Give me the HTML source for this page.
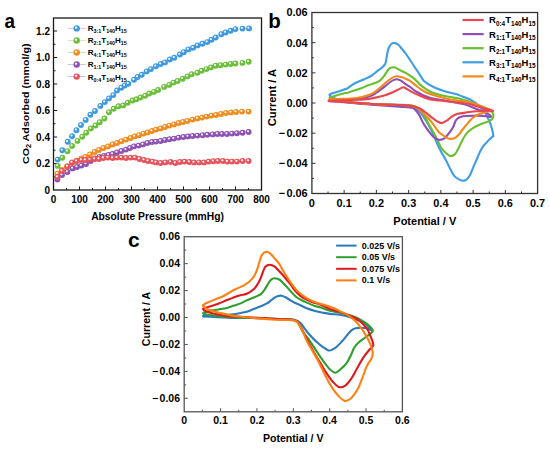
<!DOCTYPE html>
<html><head><meta charset="utf-8"><style>
html,body{margin:0;padding:0;background:#fff;}
svg{display:block;}
text{font-family:"Liberation Sans",sans-serif;font-weight:bold;}
</style></head><body>
<svg width="550" height="450" viewBox="0 0 550 450">
<rect width="550" height="450" fill="#fff"/>
<rect x="53.5" y="18.0" width="208.0" height="172.0" fill="none" stroke="#1a1a1a" stroke-width="1.3"/>
<text x="53.5" y="202.6" font-size="10" text-anchor="middle"  fill="#000">0</text>
<line x1="66.5" y1="190.0" x2="66.5" y2="188" stroke="#1a1a1a" stroke-width="1"/>
<line x1="79.5" y1="190.0" x2="79.5" y2="186.4" stroke="#1a1a1a" stroke-width="1"/>
<text x="79.5" y="202.6" font-size="10" text-anchor="middle"  fill="#000">100</text>
<line x1="92.5" y1="190.0" x2="92.5" y2="188" stroke="#1a1a1a" stroke-width="1"/>
<line x1="105.5" y1="190.0" x2="105.5" y2="186.4" stroke="#1a1a1a" stroke-width="1"/>
<text x="105.5" y="202.6" font-size="10" text-anchor="middle"  fill="#000">200</text>
<line x1="118.5" y1="190.0" x2="118.5" y2="188" stroke="#1a1a1a" stroke-width="1"/>
<line x1="131.5" y1="190.0" x2="131.5" y2="186.4" stroke="#1a1a1a" stroke-width="1"/>
<text x="131.5" y="202.6" font-size="10" text-anchor="middle"  fill="#000">300</text>
<line x1="144.5" y1="190.0" x2="144.5" y2="188" stroke="#1a1a1a" stroke-width="1"/>
<line x1="157.5" y1="190.0" x2="157.5" y2="186.4" stroke="#1a1a1a" stroke-width="1"/>
<text x="157.5" y="202.6" font-size="10" text-anchor="middle"  fill="#000">400</text>
<line x1="170.5" y1="190.0" x2="170.5" y2="188" stroke="#1a1a1a" stroke-width="1"/>
<line x1="183.5" y1="190.0" x2="183.5" y2="186.4" stroke="#1a1a1a" stroke-width="1"/>
<text x="183.5" y="202.6" font-size="10" text-anchor="middle"  fill="#000">500</text>
<line x1="196.5" y1="190.0" x2="196.5" y2="188" stroke="#1a1a1a" stroke-width="1"/>
<line x1="209.5" y1="190.0" x2="209.5" y2="186.4" stroke="#1a1a1a" stroke-width="1"/>
<text x="209.5" y="202.6" font-size="10" text-anchor="middle"  fill="#000">600</text>
<line x1="222.5" y1="190.0" x2="222.5" y2="188" stroke="#1a1a1a" stroke-width="1"/>
<line x1="235.5" y1="190.0" x2="235.5" y2="186.4" stroke="#1a1a1a" stroke-width="1"/>
<text x="235.5" y="202.6" font-size="10" text-anchor="middle"  fill="#000">700</text>
<line x1="248.5" y1="190.0" x2="248.5" y2="188" stroke="#1a1a1a" stroke-width="1"/>
<text x="261.5" y="202.6" font-size="10" text-anchor="middle"  fill="#000">800</text>
<text x="50" y="193.6" font-size="10" text-anchor="end"  fill="#000">0</text>
<line x1="53.5" y1="176.75" x2="55.5" y2="176.75" stroke="#1a1a1a" stroke-width="1"/>
<line x1="53.5" y1="163.5" x2="57.1" y2="163.5" stroke="#1a1a1a" stroke-width="1"/>
<text x="50" y="167.1" font-size="10" text-anchor="end"  fill="#000">0.2</text>
<line x1="53.5" y1="150.25" x2="55.5" y2="150.25" stroke="#1a1a1a" stroke-width="1"/>
<line x1="53.5" y1="137" x2="57.1" y2="137" stroke="#1a1a1a" stroke-width="1"/>
<text x="50" y="140.6" font-size="10" text-anchor="end"  fill="#000">0.4</text>
<line x1="53.5" y1="123.75" x2="55.5" y2="123.75" stroke="#1a1a1a" stroke-width="1"/>
<line x1="53.5" y1="110.5" x2="57.1" y2="110.5" stroke="#1a1a1a" stroke-width="1"/>
<text x="50" y="114.1" font-size="10" text-anchor="end"  fill="#000">0.6</text>
<line x1="53.5" y1="97.25" x2="55.5" y2="97.25" stroke="#1a1a1a" stroke-width="1"/>
<line x1="53.5" y1="84" x2="57.1" y2="84" stroke="#1a1a1a" stroke-width="1"/>
<text x="50" y="87.6" font-size="10" text-anchor="end"  fill="#000">0.8</text>
<line x1="53.5" y1="70.75" x2="55.5" y2="70.75" stroke="#1a1a1a" stroke-width="1"/>
<line x1="53.5" y1="57.5" x2="57.1" y2="57.5" stroke="#1a1a1a" stroke-width="1"/>
<text x="50" y="61.1" font-size="10" text-anchor="end"  fill="#000">1.0</text>
<line x1="53.5" y1="44.25" x2="55.5" y2="44.25" stroke="#1a1a1a" stroke-width="1"/>
<line x1="53.5" y1="31" x2="57.1" y2="31" stroke="#1a1a1a" stroke-width="1"/>
<text x="50" y="34.6" font-size="10" text-anchor="end"  fill="#000">1.2</text>
<text x="157.5" y="220" font-size="10.3" text-anchor="middle"  fill="#000">Absolute Pressure (mmHg)</text>
<text transform="translate(28.6,103.7) rotate(-90) scale(1.04,0.9)" font-size="10.3" text-anchor="middle"  fill="#000">CO<tspan font-size="7" dy="2.5">2</tspan><tspan dy="-2.5"> Adsorbed (mmol/g)</tspan></text>
<text transform="translate(4.6,27.6) scale(0.9,1)" font-size="21"  fill="#000">a</text>
<defs>
<radialGradient id="gblue" cx="0.4" cy="0.38" r="0.6"><stop offset="0" stop-color="#fff"/><stop offset="0.14" stop-color="#fff"/><stop offset="0.42" stop-color="#3d9ae0"/><stop offset="1" stop-color="#3d9ae0"/></radialGradient>
<radialGradient id="ggreen" cx="0.4" cy="0.38" r="0.6"><stop offset="0" stop-color="#fff"/><stop offset="0.14" stop-color="#fff"/><stop offset="0.42" stop-color="#6bbf3b"/><stop offset="1" stop-color="#6bbf3b"/></radialGradient>
<radialGradient id="gorange" cx="0.4" cy="0.38" r="0.6"><stop offset="0" stop-color="#fff"/><stop offset="0.14" stop-color="#fff"/><stop offset="0.42" stop-color="#f28b1d"/><stop offset="1" stop-color="#f28b1d"/></radialGradient>
<radialGradient id="gpurple" cx="0.4" cy="0.38" r="0.6"><stop offset="0" stop-color="#fff"/><stop offset="0.14" stop-color="#fff"/><stop offset="0.42" stop-color="#8d52b4"/><stop offset="1" stop-color="#8d52b4"/></radialGradient>
<radialGradient id="gred" cx="0.4" cy="0.38" r="0.6"><stop offset="0" stop-color="#fff"/><stop offset="0.14" stop-color="#fff"/><stop offset="0.42" stop-color="#e8525b"/><stop offset="1" stop-color="#e8525b"/></radialGradient>
</defs>
<circle cx="57.7" cy="159.6" r="2.95" fill="url(#gblue)"/><circle cx="62.3" cy="150.3" r="2.95" fill="url(#gblue)"/><circle cx="67.7" cy="141.8" r="2.95" fill="url(#gblue)"/><circle cx="72.1" cy="136.2" r="2.95" fill="url(#gblue)"/><circle cx="76.4" cy="130.2" r="2.95" fill="url(#gblue)"/><circle cx="81" cy="125" r="2.95" fill="url(#gblue)"/><circle cx="85.7" cy="119.9" r="2.95" fill="url(#gblue)"/><circle cx="90.4" cy="114.8" r="2.95" fill="url(#gblue)"/><circle cx="95" cy="111" r="2.95" fill="url(#gblue)"/><circle cx="100.4" cy="105.9" r="2.95" fill="url(#gblue)"/><circle cx="104.8" cy="102.1" r="2.95" fill="url(#gblue)"/><circle cx="109" cy="98.4" r="2.95" fill="url(#gblue)"/><circle cx="113.3" cy="95.1" r="2.95" fill="url(#gblue)"/><circle cx="117" cy="90.5" r="2.95" fill="url(#gblue)"/><circle cx="121.3" cy="87.7" r="2.95" fill="url(#gblue)"/><circle cx="124.7" cy="85.5" r="2.95" fill="url(#gblue)"/><circle cx="128.3" cy="83.8" r="2.95" fill="url(#gblue)"/><circle cx="134" cy="79.8" r="2.95" fill="url(#gblue)"/><circle cx="137.6" cy="77" r="2.95" fill="url(#gblue)"/><circle cx="141.8" cy="74.8" r="2.95" fill="url(#gblue)"/><circle cx="146.6" cy="71.4" r="2.95" fill="url(#gblue)"/><circle cx="150.9" cy="69.1" r="2.95" fill="url(#gblue)"/><circle cx="155.9" cy="66.3" r="2.95" fill="url(#gblue)"/><circle cx="160.7" cy="64" r="2.95" fill="url(#gblue)"/><circle cx="165" cy="62.4" r="2.95" fill="url(#gblue)"/><circle cx="169.8" cy="59.5" r="2.95" fill="url(#gblue)"/><circle cx="174.3" cy="57.8" r="2.95" fill="url(#gblue)"/><circle cx="179.9" cy="54.5" r="2.95" fill="url(#gblue)"/><circle cx="183.8" cy="52.2" r="2.95" fill="url(#gblue)"/><circle cx="188.4" cy="49.4" r="2.95" fill="url(#gblue)"/><circle cx="193.1" cy="47.7" r="2.95" fill="url(#gblue)"/><circle cx="197.4" cy="45.4" r="2.95" fill="url(#gblue)"/><circle cx="202.4" cy="43.7" r="2.95" fill="url(#gblue)"/><circle cx="207.2" cy="42.1" r="2.95" fill="url(#gblue)"/><circle cx="211.5" cy="39.8" r="2.95" fill="url(#gblue)"/><circle cx="215.7" cy="37.5" r="2.95" fill="url(#gblue)"/><circle cx="221.3" cy="34.2" r="2.95" fill="url(#gblue)"/><circle cx="225.6" cy="32.5" r="2.95" fill="url(#gblue)"/><circle cx="230.6" cy="30.8" r="2.95" fill="url(#gblue)"/><circle cx="235.4" cy="29.1" r="2.95" fill="url(#gblue)"/><circle cx="242.5" cy="28.6" r="2.95" fill="url(#gblue)"/><circle cx="249" cy="28.4" r="2.95" fill="url(#gblue)"/>
<circle cx="57.7" cy="165.9" r="2.95" fill="url(#ggreen)"/><circle cx="62.3" cy="157.7" r="2.95" fill="url(#ggreen)"/><circle cx="67.5" cy="151.2" r="2.95" fill="url(#ggreen)"/><circle cx="72.1" cy="146" r="2.95" fill="url(#ggreen)"/><circle cx="77.5" cy="140.9" r="2.95" fill="url(#ggreen)"/><circle cx="82.2" cy="136.7" r="2.95" fill="url(#ggreen)"/><circle cx="86.2" cy="132.7" r="2.95" fill="url(#ggreen)"/><circle cx="90.8" cy="128.5" r="2.95" fill="url(#ggreen)"/><circle cx="95.5" cy="125.5" r="2.95" fill="url(#ggreen)"/><circle cx="99.7" cy="122.2" r="2.95" fill="url(#ggreen)"/><circle cx="104.4" cy="118.5" r="2.95" fill="url(#ggreen)"/><circle cx="109" cy="112.2" r="2.95" fill="url(#ggreen)"/><circle cx="113.7" cy="108.7" r="2.95" fill="url(#ggreen)"/><circle cx="118.4" cy="106.3" r="2.95" fill="url(#ggreen)"/><circle cx="123.1" cy="105.4" r="2.95" fill="url(#ggreen)"/><circle cx="127.7" cy="102.8" r="2.95" fill="url(#ggreen)"/><circle cx="132.4" cy="100.5" r="2.95" fill="url(#ggreen)"/><circle cx="136.4" cy="99.3" r="2.95" fill="url(#ggreen)"/><circle cx="140.6" cy="97.5" r="2.95" fill="url(#ggreen)"/><circle cx="145.2" cy="95.8" r="2.95" fill="url(#ggreen)"/><circle cx="149.2" cy="93.5" r="2.95" fill="url(#ggreen)"/><circle cx="153.9" cy="91.9" r="2.95" fill="url(#ggreen)"/><circle cx="158.1" cy="90" r="2.95" fill="url(#ggreen)"/><circle cx="164.1" cy="86.9" r="2.95" fill="url(#ggreen)"/><circle cx="169.2" cy="84.9" r="2.95" fill="url(#ggreen)"/><circle cx="173.4" cy="82.6" r="2.95" fill="url(#ggreen)"/><circle cx="177.6" cy="81" r="2.95" fill="url(#ggreen)"/><circle cx="182.7" cy="78.7" r="2.95" fill="url(#ggreen)"/><circle cx="187.5" cy="76.4" r="2.95" fill="url(#ggreen)"/><circle cx="191.7" cy="74.2" r="2.95" fill="url(#ggreen)"/><circle cx="197.4" cy="72.8" r="2.95" fill="url(#ggreen)"/><circle cx="201.6" cy="70.8" r="2.95" fill="url(#ggreen)"/><circle cx="206.4" cy="69.1" r="2.95" fill="url(#ggreen)"/><circle cx="210.9" cy="67.4" r="2.95" fill="url(#ggreen)"/><circle cx="215.7" cy="65.7" r="2.95" fill="url(#ggreen)"/><circle cx="220.5" cy="65.2" r="2.95" fill="url(#ggreen)"/><circle cx="225.6" cy="64.6" r="2.95" fill="url(#ggreen)"/><circle cx="230.6" cy="64" r="2.95" fill="url(#ggreen)"/><circle cx="235.4" cy="63.5" r="2.95" fill="url(#ggreen)"/><circle cx="242.5" cy="62.9" r="2.95" fill="url(#ggreen)"/><circle cx="248.7" cy="61.8" r="2.95" fill="url(#ggreen)"/>
<circle cx="57.4" cy="173.6" r="2.95" fill="url(#gorange)"/><circle cx="62" cy="170" r="2.95" fill="url(#gorange)"/><circle cx="67" cy="166.4" r="2.95" fill="url(#gorange)"/><circle cx="72" cy="163" r="2.95" fill="url(#gorange)"/><circle cx="76.6" cy="160.8" r="2.95" fill="url(#gorange)"/><circle cx="81.4" cy="158.4" r="2.95" fill="url(#gorange)"/><circle cx="85.4" cy="157" r="2.95" fill="url(#gorange)"/><circle cx="90" cy="154.4" r="2.95" fill="url(#gorange)"/><circle cx="94.6" cy="152" r="2.95" fill="url(#gorange)"/><circle cx="99" cy="150" r="2.95" fill="url(#gorange)"/><circle cx="103.4" cy="148" r="2.95" fill="url(#gorange)"/><circle cx="108" cy="146.4" r="2.95" fill="url(#gorange)"/><circle cx="112.6" cy="144.4" r="2.95" fill="url(#gorange)"/><circle cx="117" cy="143" r="2.95" fill="url(#gorange)"/><circle cx="121.4" cy="141.2" r="2.95" fill="url(#gorange)"/><circle cx="126" cy="139.6" r="2.95" fill="url(#gorange)"/><circle cx="130.6" cy="138" r="2.95" fill="url(#gorange)"/><circle cx="134.6" cy="136.4" r="2.95" fill="url(#gorange)"/><circle cx="139" cy="135.2" r="2.95" fill="url(#gorange)"/><circle cx="143.4" cy="133.6" r="2.95" fill="url(#gorange)"/><circle cx="147.4" cy="132.4" r="2.95" fill="url(#gorange)"/><circle cx="152" cy="131" r="2.95" fill="url(#gorange)"/><circle cx="156" cy="129.6" r="2.95" fill="url(#gorange)"/><circle cx="160.6" cy="128.4" r="2.95" fill="url(#gorange)"/><circle cx="165" cy="127" r="2.95" fill="url(#gorange)"/><circle cx="169.4" cy="125.6" r="2.95" fill="url(#gorange)"/><circle cx="174" cy="124.4" r="2.95" fill="url(#gorange)"/><circle cx="178.6" cy="123" r="2.95" fill="url(#gorange)"/><circle cx="183" cy="122" r="2.95" fill="url(#gorange)"/><circle cx="187.4" cy="121" r="2.95" fill="url(#gorange)"/><circle cx="192.6" cy="119.6" r="2.95" fill="url(#gorange)"/><circle cx="197.4" cy="118.4" r="2.95" fill="url(#gorange)"/><circle cx="202" cy="117.6" r="2.95" fill="url(#gorange)"/><circle cx="206.6" cy="116.6" r="2.95" fill="url(#gorange)"/><circle cx="211.4" cy="115.6" r="2.95" fill="url(#gorange)"/><circle cx="216" cy="115" r="2.95" fill="url(#gorange)"/><circle cx="221" cy="114" r="2.95" fill="url(#gorange)"/><circle cx="226" cy="113" r="2.95" fill="url(#gorange)"/><circle cx="231" cy="112.4" r="2.95" fill="url(#gorange)"/><circle cx="236" cy="112" r="2.95" fill="url(#gorange)"/><circle cx="242" cy="111.6" r="2.95" fill="url(#gorange)"/><circle cx="248.6" cy="111.6" r="2.95" fill="url(#gorange)"/>
<circle cx="57.4" cy="179.6" r="2.95" fill="url(#gpurple)"/><circle cx="62" cy="175" r="2.95" fill="url(#gpurple)"/><circle cx="67.4" cy="172" r="2.95" fill="url(#gpurple)"/><circle cx="72.6" cy="168.4" r="2.95" fill="url(#gpurple)"/><circle cx="77" cy="167" r="2.95" fill="url(#gpurple)"/><circle cx="81.4" cy="165.6" r="2.95" fill="url(#gpurple)"/><circle cx="86" cy="164" r="2.95" fill="url(#gpurple)"/><circle cx="90.6" cy="161" r="2.95" fill="url(#gpurple)"/><circle cx="95" cy="158.4" r="2.95" fill="url(#gpurple)"/><circle cx="99.4" cy="157" r="2.95" fill="url(#gpurple)"/><circle cx="104" cy="156" r="2.95" fill="url(#gpurple)"/><circle cx="108.6" cy="155" r="2.95" fill="url(#gpurple)"/><circle cx="112.6" cy="154" r="2.95" fill="url(#gpurple)"/><circle cx="117" cy="152.4" r="2.95" fill="url(#gpurple)"/><circle cx="121.4" cy="151" r="2.95" fill="url(#gpurple)"/><circle cx="126" cy="149.6" r="2.95" fill="url(#gpurple)"/><circle cx="130" cy="148" r="2.95" fill="url(#gpurple)"/><circle cx="134" cy="146.4" r="2.95" fill="url(#gpurple)"/><circle cx="138.6" cy="145.6" r="2.95" fill="url(#gpurple)"/><circle cx="143" cy="144.4" r="2.95" fill="url(#gpurple)"/><circle cx="147.4" cy="143" r="2.95" fill="url(#gpurple)"/><circle cx="152" cy="142" r="2.95" fill="url(#gpurple)"/><circle cx="156" cy="141.6" r="2.95" fill="url(#gpurple)"/><circle cx="160.6" cy="141" r="2.95" fill="url(#gpurple)"/><circle cx="165" cy="140" r="2.95" fill="url(#gpurple)"/><circle cx="169.4" cy="139.2" r="2.95" fill="url(#gpurple)"/><circle cx="174" cy="138.6" r="2.95" fill="url(#gpurple)"/><circle cx="178.6" cy="137.6" r="2.95" fill="url(#gpurple)"/><circle cx="183.4" cy="137" r="2.95" fill="url(#gpurple)"/><circle cx="188" cy="136.4" r="2.95" fill="url(#gpurple)"/><circle cx="192.6" cy="136" r="2.95" fill="url(#gpurple)"/><circle cx="197.4" cy="135.6" r="2.95" fill="url(#gpurple)"/><circle cx="202.6" cy="135.2" r="2.95" fill="url(#gpurple)"/><circle cx="207.4" cy="134.8" r="2.95" fill="url(#gpurple)"/><circle cx="212.6" cy="134.4" r="2.95" fill="url(#gpurple)"/><circle cx="217.4" cy="134" r="2.95" fill="url(#gpurple)"/><circle cx="222" cy="134" r="2.95" fill="url(#gpurple)"/><circle cx="227" cy="134" r="2.95" fill="url(#gpurple)"/><circle cx="232" cy="133.6" r="2.95" fill="url(#gpurple)"/><circle cx="237" cy="133.2" r="2.95" fill="url(#gpurple)"/><circle cx="242.6" cy="132.8" r="2.95" fill="url(#gpurple)"/><circle cx="248.6" cy="132" r="2.95" fill="url(#gpurple)"/>
<circle cx="57.4" cy="177" r="2.95" fill="url(#gred)"/><circle cx="62" cy="171" r="2.95" fill="url(#gred)"/><circle cx="67.4" cy="166.4" r="2.95" fill="url(#gred)"/><circle cx="72" cy="162.4" r="2.95" fill="url(#gred)"/><circle cx="76.6" cy="161" r="2.95" fill="url(#gred)"/><circle cx="81.4" cy="160" r="2.95" fill="url(#gred)"/><circle cx="85.4" cy="160" r="2.95" fill="url(#gred)"/><circle cx="90" cy="159.6" r="2.95" fill="url(#gred)"/><circle cx="94.6" cy="159" r="2.95" fill="url(#gred)"/><circle cx="99" cy="159" r="2.95" fill="url(#gred)"/><circle cx="103.4" cy="158" r="2.95" fill="url(#gred)"/><circle cx="108" cy="157.6" r="2.95" fill="url(#gred)"/><circle cx="112.6" cy="158" r="2.95" fill="url(#gred)"/><circle cx="117" cy="157.6" r="2.95" fill="url(#gred)"/><circle cx="121.4" cy="157.6" r="2.95" fill="url(#gred)"/><circle cx="126" cy="158" r="2.95" fill="url(#gred)"/><circle cx="130.6" cy="157.6" r="2.95" fill="url(#gred)"/><circle cx="135" cy="157.6" r="2.95" fill="url(#gred)"/><circle cx="139.4" cy="159" r="2.95" fill="url(#gred)"/><circle cx="144" cy="160" r="2.95" fill="url(#gred)"/><circle cx="148" cy="161" r="2.95" fill="url(#gred)"/><circle cx="152.6" cy="161.6" r="2.95" fill="url(#gred)"/><circle cx="156" cy="162.4" r="2.95" fill="url(#gred)"/><circle cx="160.6" cy="163" r="2.95" fill="url(#gred)"/><circle cx="165.4" cy="162.4" r="2.95" fill="url(#gred)"/><circle cx="170.6" cy="162" r="2.95" fill="url(#gred)"/><circle cx="175.4" cy="163" r="2.95" fill="url(#gred)"/><circle cx="180" cy="162" r="2.95" fill="url(#gred)"/><circle cx="184.6" cy="161.6" r="2.95" fill="url(#gred)"/><circle cx="189.4" cy="162" r="2.95" fill="url(#gred)"/><circle cx="194" cy="162.4" r="2.95" fill="url(#gred)"/><circle cx="199" cy="162.4" r="2.95" fill="url(#gred)"/><circle cx="204" cy="162.4" r="2.95" fill="url(#gred)"/><circle cx="208.6" cy="161.6" r="2.95" fill="url(#gred)"/><circle cx="213.4" cy="161.2" r="2.95" fill="url(#gred)"/><circle cx="218" cy="161" r="2.95" fill="url(#gred)"/><circle cx="223" cy="161" r="2.95" fill="url(#gred)"/><circle cx="227.4" cy="161.6" r="2.95" fill="url(#gred)"/><circle cx="232" cy="161.6" r="2.95" fill="url(#gred)"/><circle cx="237" cy="161.6" r="2.95" fill="url(#gred)"/><circle cx="242.6" cy="161" r="2.95" fill="url(#gred)"/><circle cx="248.6" cy="161" r="2.95" fill="url(#gred)"/>
<line x1="67.5" y1="28.4" x2="85.8" y2="28.4" stroke="#f6bcc6" stroke-width="1"/>
<circle cx="76.7" cy="28.4" r="3.2" fill="url(#gblue)"/>
<text x="87.8" y="31.3" font-size="8"  fill="#000">R<tspan font-size="5.3" dy="2">3:1</tspan><tspan dy="-2">T</tspan><tspan font-size="5.3" dy="2">140</tspan><tspan dy="-2">H</tspan><tspan font-size="5.3" dy="2">15</tspan></text>
<line x1="67.5" y1="40.45" x2="85.8" y2="40.45" stroke="#dfe2bb" stroke-width="1"/>
<circle cx="76.7" cy="40.45" r="3.2" fill="url(#ggreen)"/>
<text x="87.8" y="43.35" font-size="8"  fill="#000">R<tspan font-size="5.3" dy="2">2:1</tspan><tspan dy="-2">T</tspan><tspan font-size="5.3" dy="2">140</tspan><tspan dy="-2">H</tspan><tspan font-size="5.3" dy="2">15</tspan></text>
<line x1="67.5" y1="52.5" x2="85.8" y2="52.5" stroke="#b8e2d2" stroke-width="1"/>
<circle cx="76.7" cy="52.5" r="3.2" fill="url(#gorange)"/>
<text x="87.8" y="55.4" font-size="8"  fill="#000">R<tspan font-size="5.3" dy="2">4:1</tspan><tspan dy="-2">T</tspan><tspan font-size="5.3" dy="2">140</tspan><tspan dy="-2">H</tspan><tspan font-size="5.3" dy="2">15</tspan></text>
<line x1="67.5" y1="64.55" x2="85.8" y2="64.55" stroke="#cbc3f3" stroke-width="1"/>
<circle cx="76.7" cy="64.55" r="3.2" fill="url(#gpurple)"/>
<text x="87.8" y="67.45" font-size="8"  fill="#000">R<tspan font-size="5.3" dy="2">1:1</tspan><tspan dy="-2">T</tspan><tspan font-size="5.3" dy="2">140</tspan><tspan dy="-2">H</tspan><tspan font-size="5.3" dy="2">15</tspan></text>
<line x1="67.5" y1="76.6" x2="85.8" y2="76.6" stroke="#bfbdf5" stroke-width="1"/>
<circle cx="76.7" cy="76.6" r="3.2" fill="url(#gred)"/>
<text x="87.8" y="79.5" font-size="8"  fill="#000">R<tspan font-size="5.3" dy="2">0:4</tspan><tspan dy="-2">T</tspan><tspan font-size="5.3" dy="2">140</tspan><tspan dy="-2">H</tspan><tspan font-size="5.3" dy="2">15</tspan></text>
<rect x="311.9" y="12.5" width="225.7" height="181.0" fill="none" stroke="#333" stroke-width="1.3"/>
<text x="311.9" y="206.6" font-size="10.9" text-anchor="middle"  fill="#000">0</text>
<line x1="328.02" y1="193.5" x2="328.02" y2="191.5" stroke="#333" stroke-width="1"/>
<line x1="344.14" y1="193.5" x2="344.14" y2="189.9" stroke="#333" stroke-width="1"/>
<text x="344.14" y="206.6" font-size="10.9" text-anchor="middle"  fill="#000">0.1</text>
<line x1="360.26" y1="193.5" x2="360.26" y2="191.5" stroke="#333" stroke-width="1"/>
<line x1="376.39" y1="193.5" x2="376.39" y2="189.9" stroke="#333" stroke-width="1"/>
<text x="376.39" y="206.6" font-size="10.9" text-anchor="middle"  fill="#000">0.2</text>
<line x1="392.51" y1="193.5" x2="392.51" y2="191.5" stroke="#333" stroke-width="1"/>
<line x1="408.63" y1="193.5" x2="408.63" y2="189.9" stroke="#333" stroke-width="1"/>
<text x="408.63" y="206.6" font-size="10.9" text-anchor="middle"  fill="#000">0.3</text>
<line x1="424.75" y1="193.5" x2="424.75" y2="191.5" stroke="#333" stroke-width="1"/>
<line x1="440.87" y1="193.5" x2="440.87" y2="189.9" stroke="#333" stroke-width="1"/>
<text x="440.87" y="206.6" font-size="10.9" text-anchor="middle"  fill="#000">0.4</text>
<line x1="456.99" y1="193.5" x2="456.99" y2="191.5" stroke="#333" stroke-width="1"/>
<line x1="473.11" y1="193.5" x2="473.11" y2="189.9" stroke="#333" stroke-width="1"/>
<text x="473.11" y="206.6" font-size="10.9" text-anchor="middle"  fill="#000">0.5</text>
<line x1="489.24" y1="193.5" x2="489.24" y2="191.5" stroke="#333" stroke-width="1"/>
<line x1="505.36" y1="193.5" x2="505.36" y2="189.9" stroke="#333" stroke-width="1"/>
<text x="505.36" y="206.6" font-size="10.9" text-anchor="middle"  fill="#000">0.6</text>
<line x1="521.48" y1="193.5" x2="521.48" y2="191.5" stroke="#333" stroke-width="1"/>
<text x="537.6" y="206.6" font-size="10.9" text-anchor="middle"  fill="#000">0.7</text>
<text x="307.6" y="197.4" font-size="10.9" text-anchor="end"  fill="#000">−<tspan dx="1.3">0.06</tspan></text>
<line x1="311.9" y1="178.42" x2="313.9" y2="178.42" stroke="#333" stroke-width="1"/>
<line x1="311.9" y1="163.33" x2="315.5" y2="163.33" stroke="#333" stroke-width="1"/>
<text x="307.6" y="167.23" font-size="10.9" text-anchor="end"  fill="#000">−<tspan dx="1.3">0.04</tspan></text>
<line x1="311.9" y1="148.25" x2="313.9" y2="148.25" stroke="#333" stroke-width="1"/>
<line x1="311.9" y1="133.17" x2="315.5" y2="133.17" stroke="#333" stroke-width="1"/>
<text x="307.6" y="137.07" font-size="10.9" text-anchor="end"  fill="#000">−<tspan dx="1.3">0.02</tspan></text>
<line x1="311.9" y1="118.08" x2="313.9" y2="118.08" stroke="#333" stroke-width="1"/>
<line x1="311.9" y1="103" x2="315.5" y2="103" stroke="#333" stroke-width="1"/>
<text x="307.6" y="106.9" font-size="10.9" text-anchor="end"  fill="#000">0.00</text>
<line x1="311.9" y1="87.92" x2="313.9" y2="87.92" stroke="#333" stroke-width="1"/>
<line x1="311.9" y1="72.83" x2="315.5" y2="72.83" stroke="#333" stroke-width="1"/>
<text x="307.6" y="76.73" font-size="10.9" text-anchor="end"  fill="#000">0.02</text>
<line x1="311.9" y1="57.75" x2="313.9" y2="57.75" stroke="#333" stroke-width="1"/>
<line x1="311.9" y1="42.67" x2="315.5" y2="42.67" stroke="#333" stroke-width="1"/>
<text x="307.6" y="46.57" font-size="10.9" text-anchor="end"  fill="#000">0.04</text>
<line x1="311.9" y1="27.58" x2="313.9" y2="27.58" stroke="#333" stroke-width="1"/>
<text x="307.6" y="16.4" font-size="10.9" text-anchor="end"  fill="#000">0.06</text>
<text x="424.8" y="225" font-size="11" text-anchor="middle"  fill="#000">Potential / V</text>
<text transform="translate(276.2,97.6) rotate(-90)" font-size="11.2" text-anchor="middle"  fill="#000">Current / A</text>
<text x="268.3" y="27.6" font-size="20.5"  fill="#000">b</text>
<g fill="none" stroke-width="2.1" stroke-linejoin="round" stroke-linecap="round">
<path d="M329.6,94.4C330.33,94.13 332.18,93.42 334,92.8C335.82,92.18 338.32,91.42 340.5,90.7C342.68,89.98 345.52,89.22 347.1,88.5C348.68,87.78 348.43,87.4 350,86.4C351.57,85.4 354.13,83.68 356.5,82.5C358.87,81.32 361.65,80.47 364.2,79.3C366.75,78.13 369.62,76.87 371.8,75.5C373.98,74.13 375.78,72.27 377.3,71.1C378.82,69.93 379.57,69.72 380.9,68.5C382.23,67.28 384.32,65.85 385.3,63.8C386.28,61.75 386.27,58.75 386.8,56.2C387.33,53.65 387.67,50.62 388.5,48.5C389.33,46.38 390.7,44.4 391.8,43.5C392.9,42.6 394,42.88 395.1,43.1C396.2,43.32 397.32,43.9 398.4,44.8C399.48,45.7 400.33,46.97 401.6,48.5C402.87,50.03 404.53,52 406,54C407.47,56 408.95,58.32 410.4,60.5C411.85,62.68 413.25,64.92 414.7,67.1C416.15,69.28 417.52,71.25 419.1,73.6C420.68,75.95 421.72,78.92 424.2,81.2C426.68,83.48 430.33,85.53 434,87.3C437.67,89.07 442.7,90.72 446.2,91.8C449.7,92.88 452.32,93.03 455,93.8C457.68,94.57 459.88,95.48 462.3,96.4C464.72,97.32 467.32,98.22 469.5,99.3C471.68,100.38 473.57,101.57 475.4,102.9C477.23,104.23 479.05,105.97 480.5,107.3C481.95,108.63 483.02,109.45 484.1,110.9C485.18,112.35 486.15,114.3 487,116C487.85,117.7 488.52,119.47 489.2,121.1C489.88,122.73 490.42,123.38 491.1,125.8C491.78,128.22 493.12,133.78 493.3,135.6C493.48,137.42 493.12,135.78 492.2,136.7C491.28,137.62 489.28,139.53 487.8,141.1C486.32,142.67 484.6,144.33 483.3,146.1C482,147.87 481.1,149.48 480,151.7C478.9,153.92 477.82,156.82 476.7,159.4C475.58,161.98 474.42,164.6 473.3,167.2C472.18,169.8 471.1,172.97 470,175C468.9,177.03 467.82,178.43 466.7,179.4C465.58,180.37 464.6,180.8 463.3,180.8C462,180.8 460.38,180.18 458.9,179.4C457.42,178.62 455.7,177.57 454.4,176.1C453.1,174.63 452.2,172.63 451.1,170.6C450,168.57 448.72,165.77 447.8,163.9C446.88,162.03 446.72,161.43 445.6,159.4C444.48,157.37 442.58,154.52 441.1,151.7C439.62,148.88 438,145.38 436.7,142.5C435.4,139.62 434.42,136.85 433.3,134.4C432.18,131.95 431.28,130.2 430,127.8C428.72,125.4 427.08,122.42 425.6,120C424.12,117.58 422.77,115.33 421.1,113.3C419.43,111.27 417.45,109.1 415.6,107.8C413.75,106.5 412.6,106 410,105.5C407.4,105 405.3,104.98 400,104.8C394.7,104.62 384.27,104.62 378.2,104.4C372.13,104.18 368.45,103.87 363.6,103.5C358.75,103.13 353.87,103.03 349.1,102.2C344.33,101.37 338.25,99.62 335,98.5C331.75,97.38 330.5,96 329.6,95.5" stroke="#3d9de5"/>
<path d="M329.6,97.6C330.7,97.25 334.02,96.15 336.2,95.5C338.38,94.85 340.52,94.25 342.7,93.7C344.88,93.15 347.12,92.82 349.3,92.2C351.48,91.58 353.62,90.73 355.8,90C357.98,89.27 360.22,88.63 362.4,87.8C364.58,86.97 366.72,85.83 368.9,85C371.08,84.17 373.68,83.53 375.5,82.8C377.32,82.07 378.35,81.77 379.8,80.6C381.25,79.43 382.75,77.68 384.2,75.8C385.65,73.92 387.23,70.68 388.5,69.3C389.77,67.92 390.7,67.8 391.8,67.5C392.9,67.2 394,67.2 395.1,67.5C396.2,67.8 397.32,68.72 398.4,69.3C399.48,69.88 400.33,70.35 401.6,71C402.87,71.65 404.53,72.4 406,73.2C407.47,74 408.95,74.82 410.4,75.8C411.85,76.78 412.8,77.38 414.7,79.1C416.6,80.82 418.98,83.92 421.8,86.1C424.62,88.28 428.35,90.68 431.6,92.2C434.85,93.72 437.63,94.3 441.3,95.2C444.97,96.1 450.48,97 453.6,97.6C456.72,98.2 457.95,98.32 460,98.8C462.05,99.28 464.07,99.92 465.9,100.5C467.73,101.08 469.18,101.62 471,102.3C472.82,102.98 474.62,103.72 476.8,104.6C478.98,105.48 481.92,106.7 484.1,107.6C486.28,108.5 488.48,109.18 489.9,110C491.32,110.82 492.02,111.42 492.6,112.5C493.18,113.58 493.47,115.43 493.4,116.5C493.33,117.57 492.95,118.13 492.2,118.9C491.45,119.67 490.2,120.45 488.9,121.1C487.6,121.75 486.07,122.15 484.4,122.8C482.73,123.45 480.75,124.17 478.9,125C477.05,125.83 474.97,126.78 473.3,127.8C471.63,128.82 470.2,129.9 468.9,131.1C467.6,132.3 466.57,133.52 465.5,135C464.43,136.48 463.42,138.33 462.5,140C461.58,141.67 460.97,143.05 460,145C459.03,146.95 457.72,150.03 456.7,151.7C455.68,153.37 455.02,154.3 453.9,155C452.78,155.7 451.38,156.27 450,155.9C448.62,155.53 447.08,154.15 445.6,152.8C444.12,151.45 442.4,149.85 441.1,147.8C439.8,145.75 439.1,143.1 437.8,140.5C436.5,137.9 434.97,135.25 433.3,132.2C431.63,129.15 429.65,125.53 427.8,122.2C425.95,118.87 424,114.7 422.2,112.2C420.4,109.7 419.03,108.33 417,107.2C414.97,106.07 412.83,105.77 410,105.4C407.17,105.03 405.3,105.17 400,105C394.7,104.83 384.27,104.67 378.2,104.4C372.13,104.13 368.45,103.77 363.6,103.4C358.75,103.03 354.77,103 349.1,102.2C343.43,101.4 332.85,99.2 329.6,98.6" stroke="#6abf2e"/>
<path d="M329.6,99.8C331.78,99.78 338.97,99.73 342.7,99.7C346.43,99.67 348.6,99.87 352,99.6C355.4,99.33 359.8,98.77 363.1,98.1C366.4,97.43 369.25,96.73 371.8,95.6C374.35,94.47 376.22,92.83 378.4,91.3C380.58,89.77 382.92,87.95 384.9,86.4C386.88,84.85 388.78,83.08 390.3,82C391.82,80.92 392.92,80.35 394,79.9C395.08,79.45 395.58,79.13 396.8,79.3C398.02,79.47 399.83,80.08 401.3,80.9C402.77,81.72 404.15,83.2 405.6,84.2C407.05,85.2 408.12,85.6 410,86.9C411.88,88.2 413.72,90.22 416.9,92C420.08,93.78 424.62,96.22 429.1,97.6C433.58,98.98 439.48,99.48 443.8,100.3C448.12,101.12 451.55,101.85 455,102.5C458.45,103.15 461.47,103.35 464.5,104.2C467.53,105.05 470.78,106.67 473.2,107.6C475.62,108.53 477.18,109.13 479,109.8C480.82,110.47 482.43,110.82 484.1,111.6C485.77,112.38 487.83,113.68 489,114.5C490.17,115.32 490.95,116.1 491.1,116.5C491.25,116.9 491.07,116.98 489.9,116.9C488.73,116.82 486.28,116.22 484.1,116C481.92,115.78 479.83,115.6 476.8,115.6C473.77,115.6 468.62,115.78 465.9,116C463.18,116.22 461.82,116.53 460.5,116.9C459.18,117.27 458.83,117.52 458,118.2C457.17,118.88 456.28,119.58 455.5,121C454.72,122.42 454.4,124.65 453.3,126.7C452.2,128.75 450.38,131.37 448.9,133.3C447.42,135.23 446.07,137.22 444.4,138.3C442.73,139.38 440.75,140.07 438.9,139.8C437.05,139.53 435.15,138.33 433.3,136.7C431.45,135.07 429.47,132.23 427.8,130C426.13,127.77 424.78,125.9 423.3,123.3C421.82,120.7 420.38,116.8 418.9,114.4C417.42,112 415.7,110.03 414.4,108.9C413.1,107.77 413.5,107.97 411.1,107.6C408.7,107.23 405.48,107.1 400,106.7C394.52,106.3 384.27,105.65 378.2,105.2C372.13,104.75 368.45,104.43 363.6,104C358.75,103.57 354.77,103.1 349.1,102.6C343.43,102.1 332.85,101.27 329.6,101" stroke="#8e4fb5"/>
<path d="M329.6,99.4C331.78,99.32 339.3,99.03 342.7,98.9C346.1,98.77 346.97,98.87 350,98.6C353.03,98.33 357.82,97.88 360.9,97.3C363.98,96.72 366.13,96.02 368.5,95.1C370.87,94.18 372.92,93.25 375.1,91.8C377.28,90.35 379.6,88.12 381.6,86.4C383.6,84.68 385.28,82.97 387.1,81.5C388.92,80.03 390.87,78.47 392.5,77.6C394.13,76.73 395.43,76.38 396.9,76.3C398.37,76.22 399.85,76.7 401.3,77.1C402.75,77.5 404.15,78.07 405.6,78.7C407.05,79.33 408.83,80.22 410,80.9C411.17,81.58 411.08,81.62 412.6,82.8C414.12,83.98 416.75,86.35 419.1,88C421.45,89.65 423.4,91.27 426.7,92.7C430,94.13 435.35,95.55 438.9,96.6C442.45,97.65 445.32,98.37 448,99C450.68,99.63 452.62,100.05 455,100.4C457.38,100.75 459.88,100.8 462.3,101.1C464.72,101.4 467.08,101.65 469.5,102.2C471.92,102.75 474.37,103.55 476.8,104.4C479.23,105.25 481.92,106.45 484.1,107.3C486.28,108.15 488.45,108.9 489.9,109.5C491.35,110.1 492.8,110.6 492.8,110.9C492.8,111.2 491.35,111.05 489.9,111.3C488.45,111.55 486.03,111.87 484.1,112.4C482.17,112.93 480.12,113.65 478.3,114.5C476.48,115.35 474.67,116.4 473.2,117.5C471.73,118.6 470.4,120.13 469.5,121.1C468.6,122.07 469.02,121.82 467.8,123.3C466.58,124.78 463.5,128.33 462.2,130C460.9,131.67 460.73,132.37 460,133.3C459.27,134.23 458.73,134.77 457.8,135.6C456.87,136.43 455.7,137.75 454.4,138.3C453.1,138.85 451.28,138.97 450,138.9C448.72,138.83 447.82,138.47 446.7,137.9C445.58,137.33 444.6,136.45 443.3,135.5C442,134.55 440.57,134.05 438.9,132.2C437.23,130.35 435.15,126.8 433.3,124.4C431.45,122 429.65,119.83 427.8,117.8C425.95,115.77 423.87,113.78 422.2,112.2C420.53,110.62 419.65,109.4 417.8,108.3C415.95,107.2 414.07,106.15 411.1,105.6C408.13,105.05 405.48,105.2 400,105C394.52,104.8 384.27,104.67 378.2,104.4C372.13,104.13 368.45,103.75 363.6,103.4C358.75,103.05 354.77,102.8 349.1,102.3C343.43,101.8 332.85,100.72 329.6,100.4" stroke="#f38a1c"/>
<path d="M328.5,100.9C330.87,100.8 338.52,100.48 342.7,100.3C346.88,100.12 349.97,99.95 353.6,99.8C357.23,99.65 360.85,99.77 364.5,99.4C368.15,99.03 372.22,98.25 375.5,97.6C378.78,96.95 381.3,96.4 384.2,95.5C387.1,94.6 390.35,93.3 392.9,92.2C395.45,91.1 397.75,89.73 399.5,88.9C401.25,88.07 402.32,87.27 403.4,87.2C404.48,87.13 404.83,87.85 406,88.5C407.17,89.15 408.58,90.12 410.4,91.1C412.22,92.08 414.72,93.38 416.9,94.4C419.08,95.42 421.32,96.37 423.5,97.2C425.68,98.03 427.43,98.87 430,99.4C432.57,99.93 435.9,100.05 438.9,100.4C441.9,100.75 445.32,101.2 448,101.5C450.68,101.8 452.62,101.97 455,102.2C457.38,102.43 459.88,102.6 462.3,102.9C464.72,103.2 467.08,103.45 469.5,104C471.92,104.55 474.37,105.47 476.8,106.2C479.23,106.93 481.9,107.77 484.1,108.4C486.3,109.03 488.52,109.6 490,110C491.48,110.4 493.33,110.67 493,110.8C492.67,110.93 489.48,110.78 488,110.8C486.52,110.82 485.97,110.82 484.1,110.9C482.23,110.98 479.23,111.12 476.8,111.3C474.37,111.48 471.92,111.7 469.5,112C467.08,112.3 464.38,112.77 462.3,113.1C460.22,113.43 458.68,113.47 457,114C455.32,114.53 453.92,115.2 452.2,116.3C450.48,117.4 448.45,119.47 446.7,120.6C444.95,121.73 443.37,123.02 441.7,123.1C440.03,123.18 438.28,121.98 436.7,121.1C435.12,120.22 433.87,119.1 432.2,117.8C430.53,116.5 428.73,114.85 426.7,113.3C424.67,111.75 422.23,109.68 420,108.5C417.77,107.32 415.52,106.75 413.3,106.2C411.08,105.65 408.92,105.4 406.7,105.2C404.48,105 404.75,105.17 400,105C395.25,104.83 384.27,104.48 378.2,104.2C372.13,103.92 368.45,103.62 363.6,103.3C358.75,102.98 354.92,102.65 349.1,102.3C343.28,101.95 332.1,101.38 328.7,101.2" stroke="#e8474f"/>
</g>
<line x1="462.5" y1="20" x2="483.7" y2="20" stroke="#e8474f" stroke-width="2.2"/>
<text x="489" y="23.4" font-size="9.5"  fill="#000">R<tspan font-size="6.4" dy="2.3">0:4</tspan><tspan dy="-2.3">T</tspan><tspan font-size="6.4" dy="2.3">140</tspan><tspan dy="-2.3">H</tspan><tspan font-size="6.4" dy="2.3">15</tspan></text>
<line x1="462.5" y1="34.1" x2="483.7" y2="34.1" stroke="#8e4fb5" stroke-width="2.2"/>
<text x="489" y="37.5" font-size="9.5"  fill="#000">R<tspan font-size="6.4" dy="2.3">1:1</tspan><tspan dy="-2.3">T</tspan><tspan font-size="6.4" dy="2.3">140</tspan><tspan dy="-2.3">H</tspan><tspan font-size="6.4" dy="2.3">15</tspan></text>
<line x1="462.5" y1="48.2" x2="483.7" y2="48.2" stroke="#6abf2e" stroke-width="2.2"/>
<text x="489" y="51.6" font-size="9.5"  fill="#000">R<tspan font-size="6.4" dy="2.3">2:1</tspan><tspan dy="-2.3">T</tspan><tspan font-size="6.4" dy="2.3">140</tspan><tspan dy="-2.3">H</tspan><tspan font-size="6.4" dy="2.3">15</tspan></text>
<line x1="462.5" y1="62.3" x2="483.7" y2="62.3" stroke="#3d9de5" stroke-width="2.2"/>
<text x="489" y="65.7" font-size="9.5"  fill="#000">R<tspan font-size="6.4" dy="2.3">3:1</tspan><tspan dy="-2.3">T</tspan><tspan font-size="6.4" dy="2.3">140</tspan><tspan dy="-2.3">H</tspan><tspan font-size="6.4" dy="2.3">15</tspan></text>
<line x1="462.5" y1="76.4" x2="483.7" y2="76.4" stroke="#f38a1c" stroke-width="2.2"/>
<text x="489" y="79.8" font-size="9.5"  fill="#000">R<tspan font-size="6.4" dy="2.3">4:1</tspan><tspan dy="-2.3">T</tspan><tspan font-size="6.4" dy="2.3">140</tspan><tspan dy="-2.3">H</tspan><tspan font-size="6.4" dy="2.3">15</tspan></text>
<rect x="184.2" y="236.7" width="218.2" height="175.1" fill="none" stroke="#555" stroke-width="1.3"/>
<text x="184.2" y="424.2" font-size="10.5" text-anchor="middle"  fill="#000">0</text>
<line x1="202.38" y1="411.8" x2="202.38" y2="409.8" stroke="#555" stroke-width="1"/>
<line x1="220.57" y1="411.8" x2="220.57" y2="408.2" stroke="#555" stroke-width="1"/>
<text x="220.57" y="424.2" font-size="10.5" text-anchor="middle"  fill="#000">0.1</text>
<line x1="238.75" y1="411.8" x2="238.75" y2="409.8" stroke="#555" stroke-width="1"/>
<line x1="256.93" y1="411.8" x2="256.93" y2="408.2" stroke="#555" stroke-width="1"/>
<text x="256.93" y="424.2" font-size="10.5" text-anchor="middle"  fill="#000">0.2</text>
<line x1="275.12" y1="411.8" x2="275.12" y2="409.8" stroke="#555" stroke-width="1"/>
<line x1="293.3" y1="411.8" x2="293.3" y2="408.2" stroke="#555" stroke-width="1"/>
<text x="293.3" y="424.2" font-size="10.5" text-anchor="middle"  fill="#000">0.3</text>
<line x1="311.48" y1="411.8" x2="311.48" y2="409.8" stroke="#555" stroke-width="1"/>
<line x1="329.67" y1="411.8" x2="329.67" y2="408.2" stroke="#555" stroke-width="1"/>
<text x="329.67" y="424.2" font-size="10.5" text-anchor="middle"  fill="#000">0.4</text>
<line x1="347.85" y1="411.8" x2="347.85" y2="409.8" stroke="#555" stroke-width="1"/>
<line x1="366.03" y1="411.8" x2="366.03" y2="408.2" stroke="#555" stroke-width="1"/>
<text x="366.03" y="424.2" font-size="10.5" text-anchor="middle"  fill="#000">0.5</text>
<line x1="384.22" y1="411.8" x2="384.22" y2="409.8" stroke="#555" stroke-width="1"/>
<text x="402.4" y="424.2" font-size="10.5" text-anchor="middle"  fill="#000">0.6</text>
<line x1="184.2" y1="398.3" x2="187.8" y2="398.3" stroke="#555" stroke-width="1"/>
<text x="180" y="402" font-size="10.5" text-anchor="end"  fill="#000">−<tspan dx="1.3">0.06</tspan></text>
<line x1="184.2" y1="384.83" x2="186.2" y2="384.83" stroke="#555" stroke-width="1"/>
<line x1="184.2" y1="371.37" x2="187.8" y2="371.37" stroke="#555" stroke-width="1"/>
<text x="180" y="375.07" font-size="10.5" text-anchor="end"  fill="#000">−<tspan dx="1.3">0.04</tspan></text>
<line x1="184.2" y1="357.9" x2="186.2" y2="357.9" stroke="#555" stroke-width="1"/>
<line x1="184.2" y1="344.43" x2="187.8" y2="344.43" stroke="#555" stroke-width="1"/>
<text x="180" y="348.13" font-size="10.5" text-anchor="end"  fill="#000">−<tspan dx="1.3">0.02</tspan></text>
<line x1="184.2" y1="330.97" x2="186.2" y2="330.97" stroke="#555" stroke-width="1"/>
<line x1="184.2" y1="317.5" x2="187.8" y2="317.5" stroke="#555" stroke-width="1"/>
<text x="180" y="321.2" font-size="10.5" text-anchor="end"  fill="#000">0.00</text>
<line x1="184.2" y1="304.03" x2="186.2" y2="304.03" stroke="#555" stroke-width="1"/>
<line x1="184.2" y1="290.57" x2="187.8" y2="290.57" stroke="#555" stroke-width="1"/>
<text x="180" y="294.27" font-size="10.5" text-anchor="end"  fill="#000">0.02</text>
<line x1="184.2" y1="277.1" x2="186.2" y2="277.1" stroke="#555" stroke-width="1"/>
<line x1="184.2" y1="263.63" x2="187.8" y2="263.63" stroke="#555" stroke-width="1"/>
<text x="180" y="267.33" font-size="10.5" text-anchor="end"  fill="#000">0.04</text>
<line x1="184.2" y1="250.17" x2="186.2" y2="250.17" stroke="#555" stroke-width="1"/>
<text x="180" y="240.4" font-size="10.5" text-anchor="end"  fill="#000">0.06</text>
<text x="293.2" y="441.8" font-size="10.6" text-anchor="middle"  fill="#000">Potential / V</text>
<text transform="translate(150,319) rotate(-90)" font-size="10.6" text-anchor="middle"  fill="#000">Current / A</text>
<text x="128" y="247" font-size="21"  fill="#000">c</text>
<g fill="none" stroke-width="2.1" stroke-linejoin="round" stroke-linecap="round">
<path d="M203,316.1C204.58,316.1 208.98,316.22 212.5,316.1C216.02,315.98 220.72,315.68 224.1,315.4C227.48,315.12 230.15,314.77 232.8,314.4C235.45,314.03 238.05,313.55 240,313.2C241.95,312.85 242.98,312.68 244.5,312.3C246.02,311.92 247.58,311.43 249.1,310.9C250.62,310.37 252.08,309.7 253.6,309.1C255.12,308.5 256.68,307.9 258.2,307.3C259.72,306.7 261.18,306.18 262.7,305.5C264.22,304.82 265.93,304.03 267.3,303.2C268.67,302.37 269.7,301.42 270.9,300.5C272.1,299.58 273.28,298.47 274.5,297.7C275.72,296.93 276.98,296.23 278.2,295.9C279.42,295.57 280.58,295.47 281.8,295.7C283.02,295.93 284.25,296.67 285.5,297.3C286.75,297.93 287.77,298.6 289.3,299.5C290.83,300.4 292.92,301.78 294.7,302.7C296.48,303.62 298,304.07 300,305C302,305.93 304.2,307.3 306.7,308.3C309.2,309.3 312.23,310.25 315,311C317.77,311.75 320.8,312.32 323.3,312.8C325.8,313.28 327.03,313.53 330,313.9C332.97,314.27 337.77,314.45 341.1,315C344.43,315.55 347.03,316.27 350,317.2C352.97,318.13 356.3,319.48 358.9,320.6C361.5,321.72 363.85,322.7 365.6,323.9C367.35,325.1 368.42,326.73 369.4,327.8C370.38,328.87 371.95,330.22 371.5,330.3C371.05,330.38 368.43,328.72 366.7,328.3C364.97,327.88 362.95,327.8 361.1,327.8C359.25,327.8 357.27,327.83 355.6,328.3C353.93,328.77 352.58,329.38 351.1,330.6C349.62,331.82 348.18,333.85 346.7,335.6C345.22,337.35 343.87,339.25 342.2,341.1C340.53,342.95 338.37,345.28 336.7,346.7C335.03,348.12 333.57,348.98 332.2,349.6C330.83,350.22 329.98,350.78 328.5,350.4C327.02,350.02 325.27,348.7 323.3,347.3C321.33,345.9 318.92,344 316.7,342C314.48,340 312,337.52 310,335.3C308,333.08 306.25,330.7 304.7,328.7C303.15,326.7 302.27,324.75 300.7,323.3C299.13,321.85 297.42,320.68 295.3,320C293.18,319.32 290.55,319.37 288,319.2C285.45,319.03 285.8,319.2 280,319C274.2,318.8 260.58,318.17 253.2,318C245.82,317.83 240.55,318.08 235.7,318C230.85,317.92 228.47,317.7 224.1,317.5C219.73,317.3 213.02,316.97 209.5,316.8C205.98,316.63 204.08,316.55 203,316.5" stroke="#2a7bbd"/>
<path d="M203,313.2C204.08,312.83 206.95,311.62 209.5,311C212.05,310.38 215.38,310.02 218.3,309.5C221.22,308.98 224.38,308.55 227,307.9C229.62,307.25 231.83,306.32 234,305.6C236.17,304.88 238.08,304.38 240,303.6C241.92,302.82 243.68,301.73 245.5,300.9C247.32,300.07 249.08,299.35 250.9,298.6C252.72,297.85 254.73,297.15 256.4,296.4C258.07,295.65 259.7,294.97 260.9,294.1C262.1,293.23 262.68,292.45 263.6,291.2C264.52,289.95 265.22,288.47 266.4,286.6C267.58,284.73 269.32,281.38 270.7,280C272.08,278.62 273.15,278.3 274.7,278.3C276.25,278.3 278.23,278.83 280,280C281.77,281.17 283.52,283.42 285.3,285.3C287.08,287.18 288.92,289.4 290.7,291.3C292.48,293.2 294.23,295.25 296,296.7C297.77,298.15 299.3,298.93 301.3,300C303.3,301.07 305.77,302.1 308,303.1C310.23,304.1 312.7,305.3 314.7,306C316.7,306.7 317.45,306.5 320,307.3C322.55,308.1 326.48,309.88 330,310.8C333.52,311.72 337.4,311.92 341.1,312.8C344.8,313.68 349.05,315 352.2,316.1C355.35,317.2 357.77,318.28 360,319.4C362.23,320.52 363.93,321.58 365.6,322.8C367.27,324.02 368.8,325.32 370,326.7C371.2,328.08 373.17,329.62 372.8,331.1C372.43,332.58 369.38,334.3 367.8,335.6C366.22,336.9 364.78,337.8 363.3,338.9C361.82,340 360.18,341.08 358.9,342.2C357.62,343.32 356.5,344.47 355.6,345.6C354.7,346.73 354.27,347.43 353.5,349C352.73,350.57 352.18,352.62 351,355C349.82,357.38 348.2,360.88 346.4,363.3C344.6,365.72 342,367.93 340.2,369.5C338.4,371.07 337.15,372.57 335.6,372.7C334.05,372.83 332.47,371.6 330.9,370.3C329.33,369 328.13,367.4 326.2,364.9C324.27,362.4 321.33,358.23 319.3,355.3C317.27,352.37 315.77,349.97 314,347.3C312.23,344.63 310.48,341.73 308.7,339.3C306.92,336.87 304.83,335 303.3,332.7C301.77,330.4 300.72,327.45 299.5,325.5C298.28,323.55 297.58,322 296,321C294.42,320 292.67,319.8 290,319.5C287.33,319.2 286.13,319.45 280,319.2C273.87,318.95 260.1,318.28 253.2,318C246.3,317.72 243.45,317.7 238.6,317.5C233.75,317.3 228.45,317.15 224.1,316.8C219.75,316.45 215.9,315.88 212.5,315.4C209.1,314.92 205.17,314.15 203.7,313.9" stroke="#2e9e2e"/>
<path d="M203,308.8C204.08,308.43 206.95,307.45 209.5,306.6C212.05,305.75 215.38,304.78 218.3,303.7C221.22,302.62 223.62,301.43 227,300.1C230.38,298.77 235.2,296.8 238.6,295.7C242,294.6 244.85,294.6 247.4,293.5C249.95,292.4 252.13,290.77 253.9,289.1C255.67,287.43 256.93,285.18 258,283.5C259.07,281.82 259.52,280.8 260.3,279C261.08,277.2 261.87,274.75 262.7,272.7C263.53,270.65 264.08,268.03 265.3,266.7C266.52,265.37 268.43,264.7 270,264.7C271.57,264.7 273.03,265.48 274.7,266.7C276.37,267.92 278.23,270.12 280,272C281.77,273.88 283.52,275.88 285.3,278C287.08,280.12 289.08,282.62 290.7,284.7C292.32,286.78 293.45,288.68 295,290.5C296.55,292.32 298.05,294.08 300,295.6C301.95,297.12 304.48,298.47 306.7,299.6C308.92,300.73 311.08,301.58 313.3,302.4C315.52,303.22 317.22,303.42 320,304.5C322.78,305.58 326.85,307.7 330,308.9C333.15,310.1 336.12,310.78 338.9,311.7C341.68,312.62 344.12,313.38 346.7,314.4C349.28,315.42 352.18,316.68 354.4,317.8C356.62,318.92 358.33,319.8 360,321.1C361.67,322.4 363.1,324.12 364.4,325.6C365.7,327.08 366.82,328.33 367.8,330C368.78,331.67 369.53,333.77 370.3,335.6C371.07,337.43 371.92,339.3 372.4,341C372.88,342.7 373.63,344.42 373.2,345.8C372.77,347.18 371.4,347.42 369.8,349.3C368.2,351.18 365.68,353.98 363.6,357.1C361.52,360.22 359.38,364.37 357.3,368C355.22,371.63 353.17,375.92 351.1,378.9C349.03,381.88 346.97,384.57 344.9,385.9C342.83,387.23 340.78,387.68 338.7,386.9C336.62,386.12 334.48,383.57 332.4,381.2C330.32,378.83 327.85,375.15 326.2,372.7C324.55,370.25 323.78,368.62 322.5,366.5C321.22,364.38 320,362.5 318.5,360C317,357.5 315.17,354.42 313.5,351.5C311.83,348.58 310.03,345.42 308.5,342.5C306.97,339.58 305.63,336.75 304.3,334C302.97,331.25 301.8,328.13 300.5,326C299.2,323.87 298.25,322.27 296.5,321.2C294.75,320.13 292.75,319.93 290,319.6C287.25,319.27 286.13,319.55 280,319.2C273.87,318.85 260.1,317.9 253.2,317.5C246.3,317.1 242.97,317.03 238.6,316.8C234.23,316.57 230.38,316.47 227,316.1C223.62,315.73 221.22,315.2 218.3,314.6C215.38,314 211.93,313.22 209.5,312.5C207.07,311.78 204.67,310.67 203.7,310.3" stroke="#e0191f"/>
<path d="M203,305.2C203.6,304.83 204.53,303.97 206.6,303C208.67,302.03 212.48,300.62 215.4,299.4C218.32,298.18 220.95,297.32 224.1,295.7C227.25,294.08 231.15,291.35 234.3,289.7C237.45,288.05 240.47,287.17 243,285.8C245.53,284.43 247.58,283.22 249.5,281.5C251.42,279.78 253.12,277.83 254.5,275.5C255.88,273.17 256.88,270.08 257.8,267.5C258.72,264.92 259.25,262.2 260,260C260.75,257.8 261.3,255.67 262.3,254.3C263.3,252.93 264.72,251.97 266,251.8C267.28,251.63 268.55,252.18 270,253.3C271.45,254.42 273.15,256.72 274.7,258.5C276.25,260.28 277.87,261.92 279.3,264C280.73,266.08 281.85,268.58 283.3,271C284.75,273.42 286.43,276.12 288,278.5C289.57,280.88 291.15,283.22 292.7,285.3C294.25,287.38 295.63,289.33 297.3,291C298.97,292.67 300.7,293.87 302.7,295.3C304.7,296.73 307.08,298.4 309.3,299.6C311.52,300.8 313.88,301.72 316,302.5C318.12,303.28 319.67,303.6 322,304.3C324.33,305 327.73,305.93 330,306.7C332.27,307.47 333.75,308.07 335.6,308.9C337.45,309.73 339.25,310.78 341.1,311.7C342.95,312.62 344.85,313.3 346.7,314.4C348.55,315.5 350.53,317 352.2,318.3C353.87,319.6 355.4,320.8 356.7,322.2C358,323.6 358.9,325.22 360,326.7C361.1,328.18 362.18,329.43 363.3,331.1C364.42,332.77 365.68,334.88 366.7,336.7C367.72,338.52 368.63,340.37 369.4,342C370.17,343.63 370.73,344.58 371.3,346.5C371.87,348.42 372.8,351.47 372.8,353.5C372.8,355.53 372.32,356.55 371.3,358.7C370.28,360.85 368.25,363.03 366.7,366.4C365.15,369.77 363.57,375 362,378.9C360.43,382.8 359.12,386.57 357.3,389.8C355.48,393.03 353.17,396.45 351.1,398.3C349.03,400.15 346.97,401.25 344.9,400.9C342.83,400.55 340.78,398.32 338.7,396.2C336.62,394.08 334.48,391.35 332.4,388.2C330.32,385.05 327.93,380.55 326.2,377.3C324.47,374.05 323.37,371.47 322,368.7C320.63,365.93 319.55,363.6 318,360.7C316.45,357.8 314.48,354.42 312.7,351.3C310.92,348.18 308.87,345.1 307.3,342C305.73,338.9 304.63,335.58 303.3,332.7C301.97,329.82 300.63,326.7 299.3,324.7C297.97,322.7 297.18,321.48 295.3,320.7C293.42,319.92 291.38,320.17 288,320C284.62,319.83 278.87,319.87 275,319.7C271.13,319.53 268.43,319.28 264.8,319C261.17,318.72 257.08,318.37 253.2,318C249.32,317.63 245.13,317.23 241.5,316.8C237.87,316.37 234.78,316 231.4,315.4C228.02,314.8 224.35,313.93 221.2,313.2C218.05,312.47 214.93,311.73 212.5,311C210.07,310.27 208.18,309.65 206.6,308.8C205.02,307.95 203.6,306.38 203,305.9" stroke="#ff7f11"/>
</g>
<line x1="336.1" y1="245.6" x2="356.6" y2="245.6" stroke="#2a7bbd" stroke-width="2"/>
<text x="361.8" y="248.6" font-size="8.95"  fill="#000">0.025 V/s</text>
<line x1="336.1" y1="257.2" x2="356.6" y2="257.2" stroke="#2e9e2e" stroke-width="2"/>
<text x="361.8" y="260.2" font-size="8.95"  fill="#000">0.05 V/s</text>
<line x1="336.1" y1="268.8" x2="356.6" y2="268.8" stroke="#e0191f" stroke-width="2"/>
<text x="361.8" y="271.8" font-size="8.95"  fill="#000">0.075 V/s</text>
<line x1="336.1" y1="280.4" x2="356.6" y2="280.4" stroke="#ff7f11" stroke-width="2"/>
<text x="361.8" y="283.4" font-size="8.95"  fill="#000">0.1 V/s</text>
</svg>
</body></html>
